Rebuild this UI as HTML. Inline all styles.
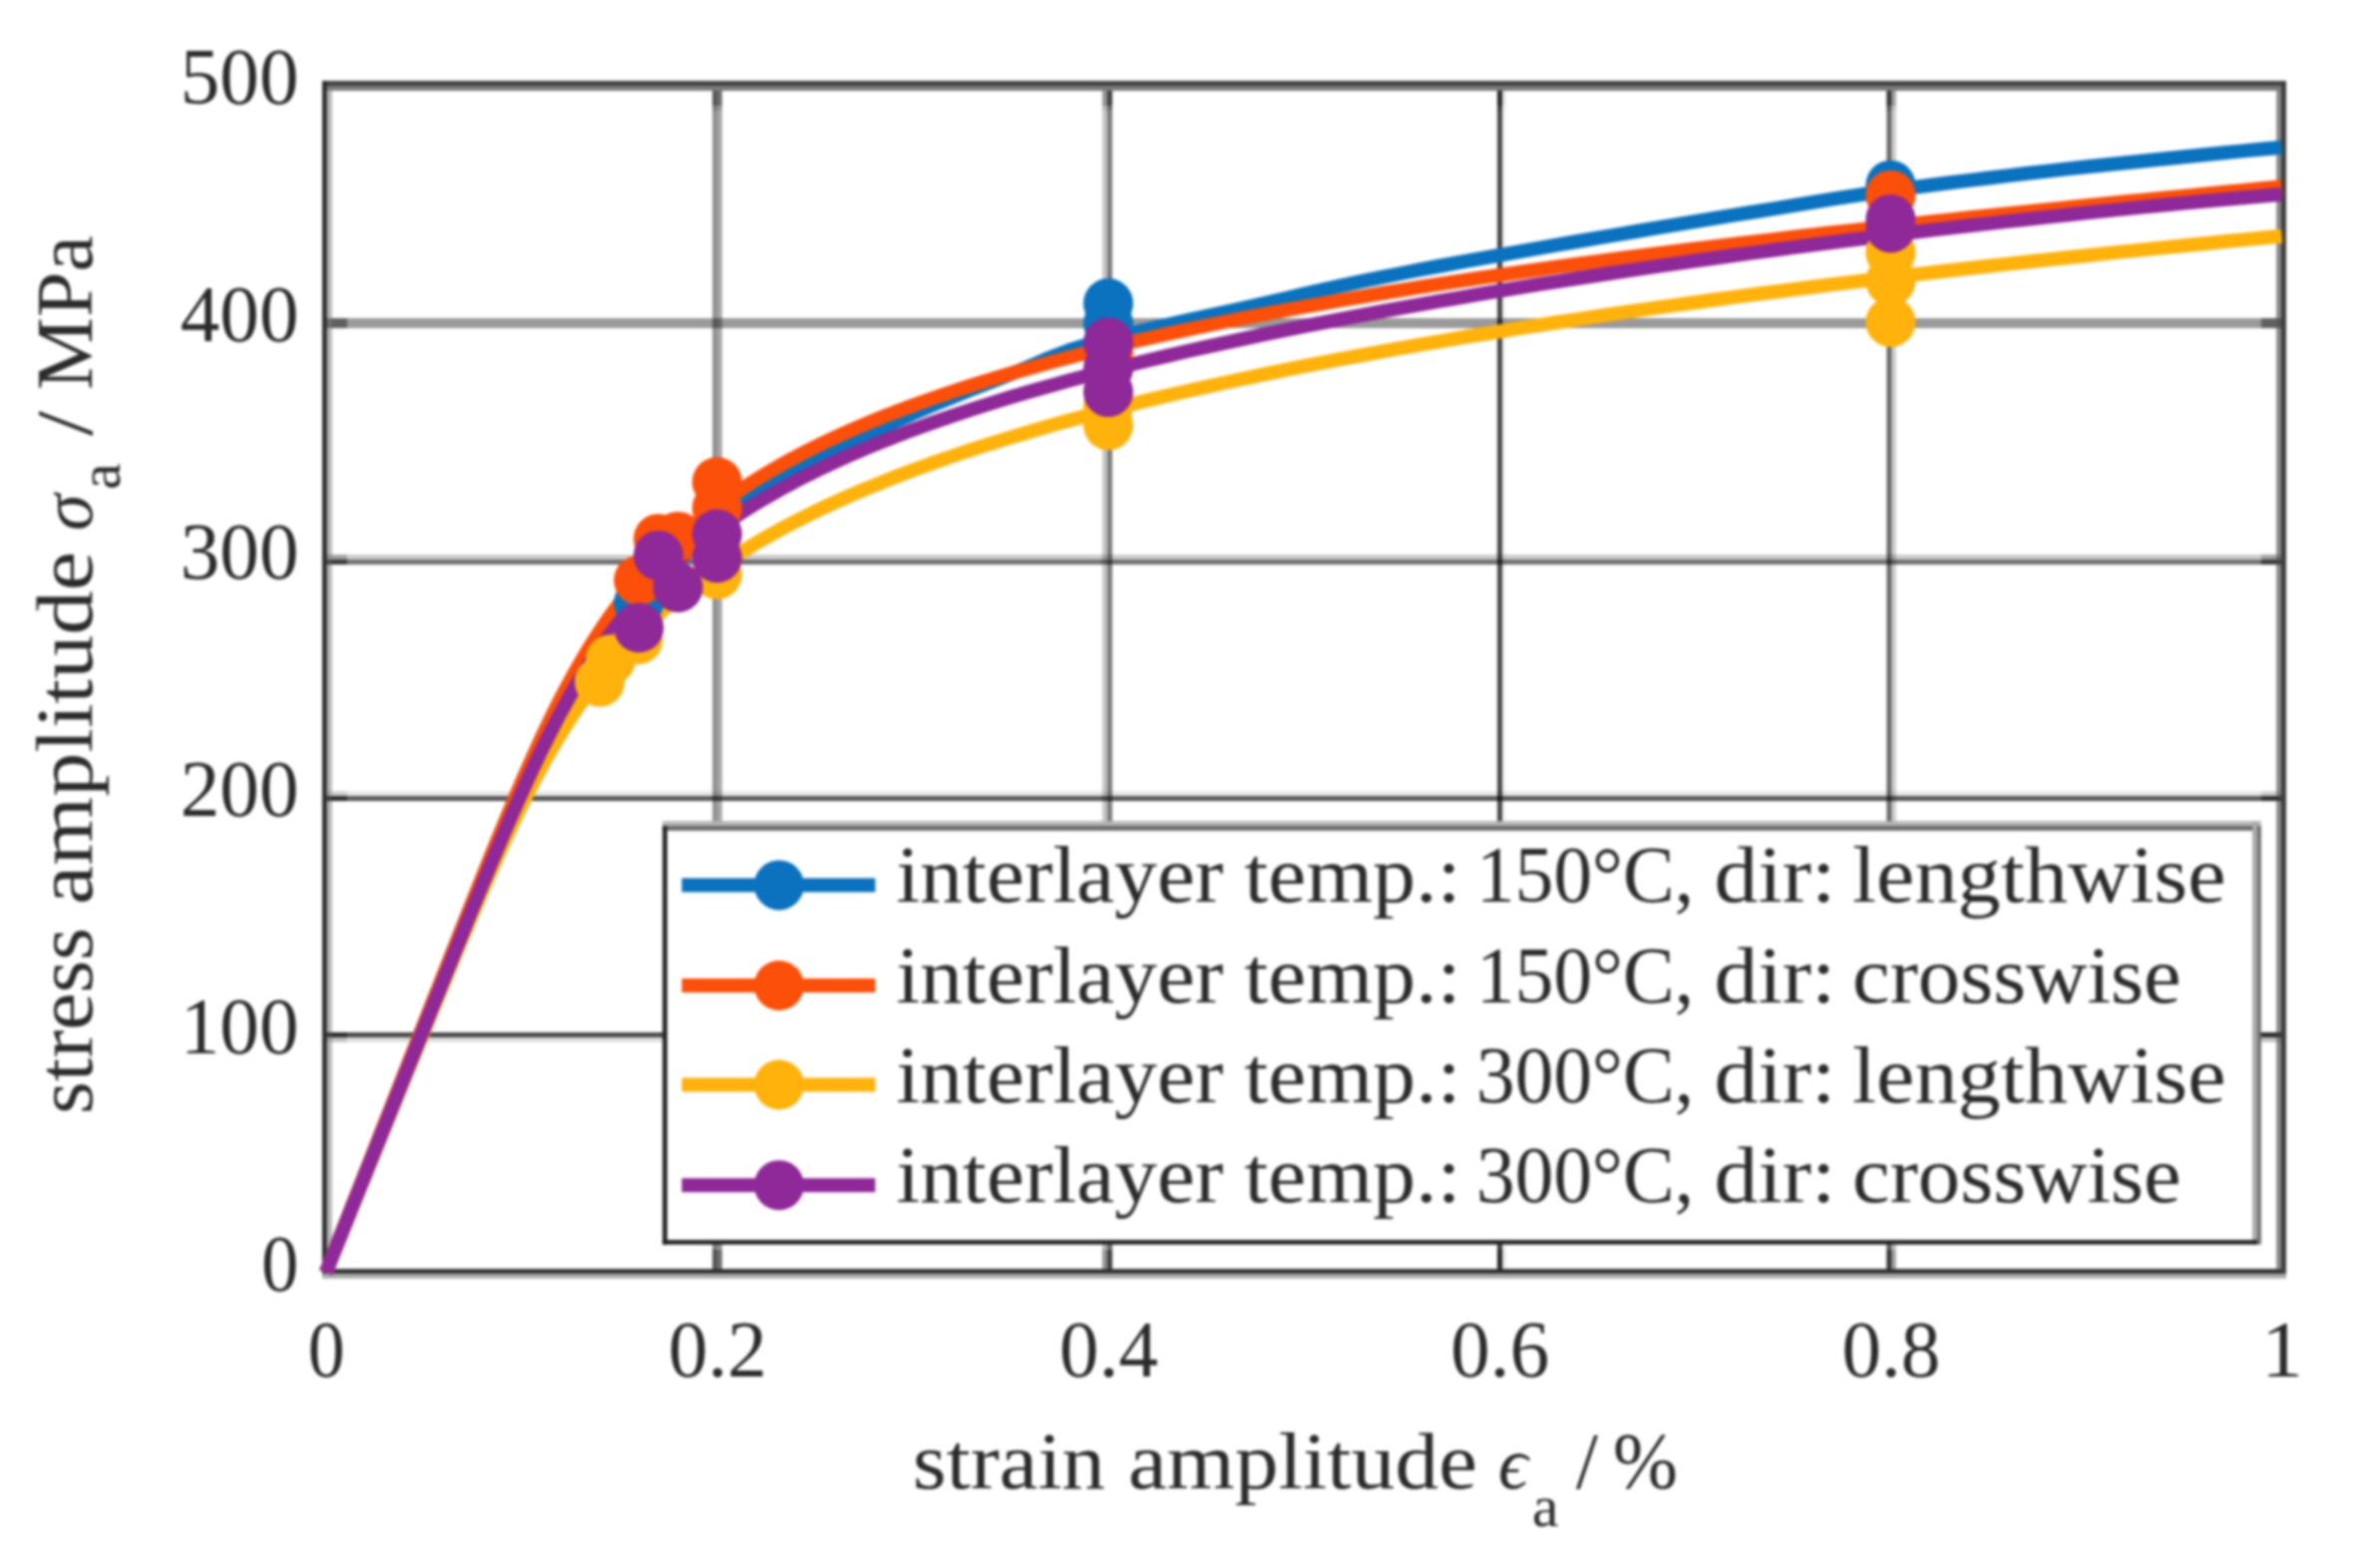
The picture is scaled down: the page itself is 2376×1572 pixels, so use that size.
<!DOCTYPE html>
<html><head><meta charset="utf-8"><title>chart</title>
<style>html,body{margin:0;padding:0;background:#fff}body{width:2376px;height:1572px;overflow:hidden}</style></head>
<body>
<svg width="2376" height="1572" viewBox="0 0 2376 1572" style="display:block;filter:blur(1.4px)">
<rect width="2376" height="1572" fill="#fff"/>
<rect x="326.7" y="319" width="1960.8999999999999" height="10" fill="#9a9a9a"/>
<rect x="326.7" y="556" width="1960.8999999999999" height="5" fill="#cdcdcd"/>
<rect x="326.7" y="561" width="1960.8999999999999" height="5" fill="#707070"/>
<rect x="326.7" y="793.3" width="1960.8999999999999" height="4.8" fill="#e6e6e6"/>
<rect x="326.7" y="798.1" width="1960.8999999999999" height="4.9" fill="#555"/>
<rect x="326.7" y="1035" width="1960.8999999999999" height="5" fill="#4a4a4a"/>
<rect x="326.7" y="1040" width="1960.8999999999999" height="4.8" fill="#dedede"/>
<rect x="714.3" y="85.7" width="4.8" height="1190.2" fill="#000" fill-opacity="0.44"/>
<rect x="719.1" y="85.7" width="4.8" height="1190.2" fill="#000" fill-opacity="0.35"/>
<rect x="1105.1" y="85.7" width="5" height="1190.2" fill="#000" fill-opacity="0.23"/>
<rect x="1110.1" y="85.7" width="5" height="1190.2" fill="#000" fill-opacity="0.52"/>
<rect x="1501.1" y="85.7" width="5" height="1190.2" fill="#000" fill-opacity="0.73"/>
<rect x="1506.1" y="85.7" width="4" height="1190.2" fill="#000" fill-opacity="0.04"/>
<rect x="1891.5" y="85.7" width="4.8" height="1190.2" fill="#000" fill-opacity="0.6"/>
<rect x="1896.3" y="85.7" width="4.6" height="1190.2" fill="#000" fill-opacity="0.2"/>
<rect x="323" y="81" width="1969" height="5" fill="#444"/>
<rect x="328" y="86" width="1959" height="5" fill="#7a7a7a"/>
<rect x="323" y="1272.2" width="1969" height="4.7" fill="#2d2d2d"/>
<rect x="323" y="1276.9" width="1969" height="4.9" fill="#aaa"/>
<rect x="323" y="81" width="4.9" height="1196" fill="#2d2d2d"/>
<rect x="327.9" y="91" width="5" height="1181.2" fill="#b8b8b8"/>
<rect x="2287" y="81" width="5" height="1196" fill="#3d3d3d"/>
<rect x="2282.1" y="91" width="4.9" height="1181.2" fill="#8a8a8a"/>
<rect x="714.3" y="91" width="4.8" height="15" fill="#262626" fill-opacity="0.56"/>
<rect x="714.3" y="106" width="4.8" height="5" fill="#262626" fill-opacity="0.17"/>
<rect x="714.3" y="1253" width="4.8" height="19.2" fill="#262626" fill-opacity="0.56"/>
<rect x="714.3" y="1248" width="4.8" height="5" fill="#262626" fill-opacity="0.17"/>
<rect x="719.1" y="91" width="4.8" height="15" fill="#262626" fill-opacity="0.44"/>
<rect x="719.1" y="106" width="4.8" height="5" fill="#262626" fill-opacity="0.13"/>
<rect x="719.1" y="1253" width="4.8" height="19.2" fill="#262626" fill-opacity="0.44"/>
<rect x="719.1" y="1248" width="4.8" height="5" fill="#262626" fill-opacity="0.13"/>
<rect x="1105.1" y="91" width="5" height="15" fill="#262626" fill-opacity="0.31"/>
<rect x="1105.1" y="106" width="5" height="5" fill="#262626" fill-opacity="0.09"/>
<rect x="1105.1" y="1253" width="5" height="19.2" fill="#262626" fill-opacity="0.31"/>
<rect x="1105.1" y="1248" width="5" height="5" fill="#262626" fill-opacity="0.09"/>
<rect x="1110.1" y="91" width="5" height="15" fill="#262626" fill-opacity="0.69"/>
<rect x="1110.1" y="106" width="5" height="5" fill="#262626" fill-opacity="0.21"/>
<rect x="1110.1" y="1253" width="5" height="19.2" fill="#262626" fill-opacity="0.69"/>
<rect x="1110.1" y="1248" width="5" height="5" fill="#262626" fill-opacity="0.21"/>
<rect x="1501.1" y="91" width="5" height="15" fill="#262626" fill-opacity="0.95"/>
<rect x="1501.1" y="106" width="5" height="5" fill="#262626" fill-opacity="0.28"/>
<rect x="1501.1" y="1253" width="5" height="19.2" fill="#262626" fill-opacity="0.95"/>
<rect x="1501.1" y="1248" width="5" height="5" fill="#262626" fill-opacity="0.28"/>
<rect x="1506.1" y="91" width="4" height="15" fill="#262626" fill-opacity="0.05"/>
<rect x="1506.1" y="106" width="4" height="5" fill="#262626" fill-opacity="0.01"/>
<rect x="1506.1" y="1253" width="4" height="19.2" fill="#262626" fill-opacity="0.05"/>
<rect x="1506.1" y="1248" width="4" height="5" fill="#262626" fill-opacity="0.01"/>
<rect x="1891.5" y="91" width="4.8" height="15" fill="#262626" fill-opacity="0.75"/>
<rect x="1891.5" y="106" width="4.8" height="5" fill="#262626" fill-opacity="0.22"/>
<rect x="1891.5" y="1253" width="4.8" height="19.2" fill="#262626" fill-opacity="0.75"/>
<rect x="1891.5" y="1248" width="4.8" height="5" fill="#262626" fill-opacity="0.22"/>
<rect x="1896.3" y="91" width="4.6" height="15" fill="#262626" fill-opacity="0.25"/>
<rect x="1896.3" y="106" width="4.6" height="5" fill="#262626" fill-opacity="0.07"/>
<rect x="1896.3" y="1253" width="4.6" height="19.2" fill="#262626" fill-opacity="0.25"/>
<rect x="1896.3" y="1248" width="4.6" height="5" fill="#262626" fill-opacity="0.07"/>
<rect x="327.9" y="319" width="20.1" height="5" fill="#262626" fill-opacity="0.50"/>
<rect x="2267" y="319" width="20" height="5" fill="#262626" fill-opacity="0.50"/>
<rect x="327.9" y="324" width="20.1" height="5" fill="#262626" fill-opacity="0.50"/>
<rect x="2267" y="324" width="20" height="5" fill="#262626" fill-opacity="0.50"/>
<rect x="327.9" y="556" width="20.1" height="5" fill="#262626" fill-opacity="0.26"/>
<rect x="2267" y="556" width="20" height="5" fill="#262626" fill-opacity="0.26"/>
<rect x="327.9" y="561" width="20.1" height="5" fill="#262626" fill-opacity="0.74"/>
<rect x="2267" y="561" width="20" height="5" fill="#262626" fill-opacity="0.74"/>
<rect x="327.9" y="793.3" width="20.1" height="4.8" fill="#262626" fill-opacity="0.13"/>
<rect x="2267" y="793.3" width="20" height="4.8" fill="#262626" fill-opacity="0.13"/>
<rect x="327.9" y="798.1" width="20.1" height="4.9" fill="#262626" fill-opacity="0.87"/>
<rect x="2267" y="798.1" width="20" height="4.9" fill="#262626" fill-opacity="0.87"/>
<rect x="327.9" y="1035" width="20.1" height="5" fill="#262626" fill-opacity="0.85"/>
<rect x="2267" y="1035" width="20" height="5" fill="#262626" fill-opacity="0.85"/>
<rect x="327.9" y="1040" width="20.1" height="4.8" fill="#262626" fill-opacity="0.15"/>
<rect x="2267" y="1040" width="20" height="4.8" fill="#262626" fill-opacity="0.15"/>
<clipPath id="cp"><rect x="316" y="81" width="1976" height="1203"/></clipPath>
<g clip-path="url(#cp)" fill="none" stroke-width="14" stroke-linejoin="round">
<polyline stroke="#0a72bf" points="326.7,1275.9 331.6,1263.5 336.5,1251.1 341.4,1238.7 346.3,1226.2 351.2,1213.8 356.1,1201.4 361.0,1189.0 365.9,1176.6 370.8,1164.2 375.7,1151.8 380.6,1139.4 385.5,1126.9 390.4,1114.5 395.3,1102.1 400.2,1089.7 405.1,1077.3 410.0,1064.9 414.9,1052.5 419.8,1040.1 424.7,1027.7 429.6,1015.3 434.5,1002.9 439.5,990.5 444.4,978.1 449.3,965.7 454.2,953.4 459.1,941.0 464.0,928.7 468.9,916.4 473.8,904.1 478.7,891.9 483.6,879.7 488.5,867.5 493.4,855.5 498.3,843.5 503.2,831.6 508.1,819.8 513.0,808.1 517.9,796.5 522.8,785.1 527.7,773.9 532.6,762.8 537.5,751.9 542.4,741.3 547.3,730.8 552.2,720.6 557.1,710.7 562.0,701.0 566.9,691.7 571.8,682.8 576.7,674.1 581.6,665.7 586.5,657.6 591.4,649.8 596.3,642.3 601.2,635.1 606.1,628.2 611.0,621.6 615.9,615.3 620.8,609.3 625.7,603.6 630.6,598.0 635.5,592.7 640.4,587.5 645.3,582.5 650.2,577.6 655.2,572.8 660.1,568.2 665.0,563.7 669.9,559.4 674.8,555.2 679.7,551.1 684.6,547.1 689.5,543.2 694.4,539.3 699.3,535.4 704.2,531.6 709.1,527.9 714.0,524.3 718.9,520.8 723.8,517.4 728.7,514.0 733.6,510.7 738.5,507.4 743.4,504.2 748.3,501.1 753.2,498.0 758.1,494.9 763.0,491.9 767.9,488.9 772.8,486.0 777.7,483.1 782.6,480.3 787.5,477.4 792.4,474.7 797.3,471.9 802.2,469.2 807.1,466.5 812.0,463.9 816.9,461.3 821.8,458.8 826.7,456.2 831.6,453.7 836.5,451.3 841.4,448.8 846.3,446.4 851.2,444.1 856.1,441.7 861.0,439.5 865.9,437.2 870.8,434.9 875.8,432.6 880.7,430.4 885.6,428.1 890.5,425.9 895.4,423.6 900.3,421.4 905.2,419.2 910.1,417.0 915.0,414.9 934.6,406.4 954.2,398.4 973.8,390.6 993.4,382.9 1013.0,375.2 1032.6,367.1 1052.2,358.7 1071.8,351.2 1091.5,345.1 1111.1,339.9 1130.7,335.0 1150.3,330.3 1169.9,325.7 1189.5,321.4 1209.1,317.1 1228.7,312.9 1248.3,308.5 1267.9,304.0 1287.5,299.5 1307.1,294.9 1326.8,290.4 1346.4,286.1 1366.0,281.8 1385.6,277.8 1405.2,274.0 1424.8,270.2 1444.4,266.5 1464.0,262.9 1483.6,259.3 1503.2,255.8 1522.8,252.3 1542.5,248.8 1562.1,245.4 1581.7,242.0 1601.3,238.6 1620.9,235.3 1640.5,232.0 1660.1,228.6 1679.7,225.4 1699.3,222.1 1718.9,218.8 1738.5,215.6 1758.2,212.5 1777.8,209.3 1797.4,206.1 1817.0,202.8 1836.6,199.7 1856.2,196.6 1875.8,193.7 1895.4,190.9 1915.0,188.4 1934.6,185.8 1954.2,183.3 1973.9,180.9 1993.5,178.5 2013.1,176.1 2032.7,173.8 2052.3,171.6 2071.9,169.4 2091.5,167.3 2111.1,165.2 2130.7,163.2 2150.3,161.2 2169.9,159.2 2189.6,157.2 2209.2,155.3 2228.8,153.3 2248.4,151.4 2268.0,149.5 2287.6,147.7"/>
<polyline stroke="#fb4f0a" points="326.7,1275.9 331.6,1263.5 336.5,1251.1 341.4,1238.7 346.3,1226.2 351.2,1213.8 356.1,1201.4 361.0,1189.0 365.9,1176.6 370.8,1164.2 375.7,1151.8 380.6,1139.4 385.5,1126.9 390.4,1114.5 395.3,1102.1 400.2,1089.7 405.1,1077.3 410.0,1064.9 414.9,1052.5 419.8,1040.1 424.7,1027.7 429.6,1015.3 434.5,1002.9 439.5,990.5 444.4,978.1 449.3,965.7 454.2,953.4 459.1,941.0 464.0,928.7 468.9,916.4 473.8,904.1 478.7,891.9 483.6,879.7 488.5,867.5 493.4,855.5 498.3,843.5 503.2,831.6 508.1,819.8 513.0,808.1 517.9,796.5 522.8,785.1 527.7,773.9 532.6,762.8 537.5,751.9 542.4,741.3 547.3,730.8 552.2,720.6 557.1,710.7 562.0,701.0 566.9,691.6 571.8,682.4 576.7,673.5 581.6,664.9 586.5,656.5 591.4,648.4 596.3,640.6 601.2,633.0 606.1,625.7 611.0,618.6 615.9,611.7 620.8,605.1 625.7,598.7 630.6,592.5 635.5,586.4 640.4,580.6 645.3,575.0 650.2,569.5 655.2,564.2 660.1,559.1 665.0,554.1 669.9,549.3 674.8,544.6 679.7,540.0 684.6,535.6 689.5,531.3 694.4,527.1 699.3,523.0 704.2,519.0 709.1,515.1 714.0,511.3 718.9,507.6 723.8,504.0 728.7,500.5 733.6,497.0 738.5,493.7 743.4,490.4 748.3,487.2 753.2,484.0 758.1,480.9 763.0,477.9 767.9,475.0 772.8,472.1 777.7,469.2 782.6,466.4 787.5,463.7 792.4,461.0 797.3,458.4 802.2,455.8 807.1,453.3 812.0,450.8 816.9,448.3 821.8,445.9 826.7,443.5 831.6,441.2 836.5,438.9 841.4,436.7 846.3,434.4 851.2,432.3 856.1,430.1 861.0,428.0 865.9,425.9 870.8,423.8 875.8,421.8 880.7,419.8 885.6,417.8 890.5,415.9 895.4,414.0 900.3,412.1 905.2,410.2 910.1,408.4 915.0,406.6 934.6,399.5 954.2,392.8 973.8,386.5 993.4,380.3 1013.0,374.5 1032.6,368.9 1052.2,363.5 1071.8,358.3 1091.5,353.3 1111.1,348.5 1130.7,343.8 1150.3,339.3 1169.9,334.9 1189.5,330.7 1209.1,326.5 1228.7,322.5 1248.3,318.6 1267.9,314.9 1287.5,311.2 1307.1,307.6 1326.8,304.1 1346.4,300.6 1366.0,297.3 1385.6,294.0 1405.2,290.8 1424.8,287.7 1444.4,284.6 1464.0,281.6 1483.6,278.7 1503.2,275.8 1522.8,273.0 1542.5,270.2 1562.1,267.4 1581.7,264.8 1601.3,262.1 1620.9,259.5 1640.5,257.0 1660.1,254.4 1679.7,252.0 1699.3,249.5 1718.9,247.1 1738.5,244.7 1758.2,242.4 1777.8,240.1 1797.4,237.8 1817.0,235.5 1836.6,233.3 1856.2,231.1 1875.8,228.9 1895.4,226.7 1915.0,224.6 1934.6,222.5 1954.2,220.4 1973.9,218.3 1993.5,216.3 2013.1,214.2 2032.7,212.2 2052.3,210.2 2071.9,208.2 2091.5,206.2 2111.1,204.3 2130.7,202.3 2150.3,200.4 2169.9,198.5 2189.6,196.6 2209.2,194.7 2228.8,192.8 2248.4,190.9 2268.0,189.0 2287.6,187.2"/>
<polyline stroke="#ffb20c" points="326.7,1275.9 331.6,1263.8 336.5,1251.7 341.4,1239.7 346.3,1227.6 351.2,1215.5 356.1,1203.4 361.0,1191.4 365.9,1179.3 370.8,1167.2 375.7,1155.1 380.6,1143.0 385.5,1131.0 390.4,1118.9 395.3,1106.8 400.2,1094.7 405.1,1082.7 410.0,1070.6 414.9,1058.6 419.8,1046.5 424.7,1034.5 429.6,1022.5 434.5,1010.5 439.5,998.5 444.4,986.5 449.3,974.6 454.2,962.8 459.1,950.9 464.0,939.2 468.9,927.5 473.8,915.9 478.7,904.4 483.6,893.0 488.5,881.7 493.4,870.6 498.3,859.6 503.2,848.8 508.1,838.2 513.0,827.8 517.9,817.5 522.8,807.5 527.7,797.7 532.6,788.1 537.5,778.8 542.4,769.7 547.3,760.9 552.2,752.3 557.1,744.0 562.0,735.9 566.9,728.0 571.8,720.3 576.7,712.9 581.6,705.8 586.5,698.8 591.4,692.1 596.3,685.5 601.2,679.2 606.1,673.1 611.0,667.1 615.9,661.3 620.8,655.7 625.7,650.3 630.6,644.9 635.5,639.8 640.4,634.8 645.3,629.9 650.2,625.1 655.2,620.5 660.1,616.0 665.0,611.6 669.9,607.3 674.8,603.1 679.7,599.1 684.6,595.1 689.5,591.2 694.4,587.4 699.3,583.6 704.2,580.0 709.1,576.4 714.0,573.0 718.9,569.5 723.8,566.2 728.7,562.9 733.6,559.7 738.5,556.6 743.4,553.5 748.3,550.4 753.2,547.5 758.1,544.5 763.0,541.7 767.9,538.9 772.8,536.1 777.7,533.4 782.6,530.7 787.5,528.0 792.4,525.5 797.3,522.9 802.2,520.4 807.1,517.9 812.0,515.5 816.9,513.1 821.8,510.7 826.7,508.4 831.6,506.1 836.5,503.9 841.4,501.6 846.3,499.4 851.2,497.3 856.1,495.1 861.0,493.0 865.9,491.0 870.8,488.9 875.8,486.9 880.7,484.9 885.6,482.9 890.5,480.9 895.4,479.0 900.3,477.1 905.2,475.2 910.1,473.4 915.0,471.5 934.6,464.4 954.2,457.5 973.8,450.9 993.4,444.6 1013.0,438.6 1032.6,432.7 1052.2,427.1 1071.8,421.6 1091.5,416.3 1111.1,411.2 1130.7,406.3 1150.3,401.4 1169.9,396.8 1189.5,392.2 1209.1,387.8 1228.7,383.5 1248.3,379.3 1267.9,375.2 1287.5,371.1 1307.1,367.2 1326.8,363.4 1346.4,359.7 1366.0,356.0 1385.6,352.4 1405.2,348.9 1424.8,345.4 1444.4,342.1 1464.0,338.7 1483.6,335.5 1503.2,332.3 1522.8,329.2 1542.5,326.1 1562.1,323.0 1581.7,320.1 1601.3,317.1 1620.9,314.2 1640.5,311.4 1660.1,308.6 1679.7,305.9 1699.3,303.2 1718.9,300.5 1738.5,297.9 1758.2,295.3 1777.8,292.7 1797.4,290.2 1817.0,287.7 1836.6,285.3 1856.2,282.9 1875.8,280.5 1895.4,278.1 1915.0,275.8 1934.6,273.5 1954.2,271.2 1973.9,269.0 1993.5,266.8 2013.1,264.6 2032.7,262.5 2052.3,260.4 2071.9,258.3 2091.5,256.2 2111.1,254.1 2130.7,252.1 2150.3,250.1 2169.9,248.1 2189.6,246.2 2209.2,244.2 2228.8,242.3 2248.4,240.4 2268.0,238.5 2287.6,236.7"/>
<polyline stroke="#8f2898" points="326.7,1275.9 331.6,1263.7 336.5,1251.5 341.4,1239.3 346.3,1227.1 351.2,1214.9 356.1,1202.7 361.0,1190.5 365.9,1178.3 370.8,1166.1 375.7,1153.9 380.6,1141.7 385.5,1129.5 390.4,1117.3 395.3,1105.1 400.2,1092.9 405.1,1080.7 410.0,1068.5 414.9,1056.3 419.8,1044.1 424.7,1031.9 429.6,1019.7 434.5,1007.5 439.5,995.4 444.4,983.2 449.3,971.1 454.2,958.9 459.1,946.8 464.0,934.8 468.9,922.7 473.8,910.7 478.7,898.8 483.6,886.9 488.5,875.1 493.4,863.3 498.3,851.7 503.2,840.1 508.1,828.7 513.0,817.4 517.9,806.2 522.8,795.3 527.7,784.5 532.6,773.8 537.5,763.4 542.4,753.2 547.3,743.3 552.2,733.5 557.1,724.0 562.0,714.8 566.9,705.8 571.8,697.0 576.7,688.6 581.6,680.3 586.5,672.4 591.4,664.8 596.3,657.4 601.2,650.3 606.1,643.4 611.0,636.8 615.9,630.3 620.8,624.0 625.7,618.0 630.6,612.1 635.5,606.4 640.4,600.9 645.3,595.5 650.2,590.3 655.2,585.2 660.1,580.3 665.0,575.6 669.9,570.9 674.8,566.4 679.7,562.0 684.6,557.8 689.5,553.6 694.4,549.6 699.3,545.6 704.2,541.8 709.1,538.0 714.0,534.3 718.9,530.7 723.8,527.2 728.7,523.8 733.6,520.5 738.5,517.2 743.4,514.0 748.3,510.8 753.2,507.8 758.1,504.7 763.0,501.8 767.9,498.9 772.8,496.1 777.7,493.3 782.6,490.5 787.5,487.8 792.4,485.2 797.3,482.6 802.2,480.1 807.1,477.5 812.0,475.1 816.9,472.7 821.8,470.3 826.7,467.9 831.6,465.6 836.5,463.3 841.4,461.1 846.3,458.9 851.2,456.7 856.1,454.6 861.0,452.5 865.9,450.4 870.8,448.3 875.8,446.3 880.7,444.3 885.6,442.3 890.5,440.4 895.4,438.4 900.3,436.5 905.2,434.7 910.1,432.8 915.0,431.0 934.6,423.9 954.2,417.1 973.8,410.6 993.4,404.3 1013.0,398.3 1032.6,392.5 1052.2,386.9 1071.8,381.5 1091.5,376.3 1111.1,371.2 1130.7,366.3 1150.3,361.5 1169.9,356.9 1189.5,352.3 1209.1,347.9 1228.7,343.6 1248.3,339.3 1267.9,335.2 1287.5,331.2 1307.1,327.2 1326.8,323.4 1346.4,319.6 1366.0,315.9 1385.6,312.2 1405.2,308.6 1424.8,305.1 1444.4,301.7 1464.0,298.3 1483.6,294.9 1503.2,291.7 1522.8,288.4 1542.5,285.2 1562.1,282.1 1581.7,279.0 1601.3,276.0 1620.9,273.0 1640.5,270.1 1660.1,267.2 1679.7,264.3 1699.3,261.5 1718.9,258.8 1738.5,256.0 1758.2,253.4 1777.8,250.7 1797.4,248.1 1817.0,245.5 1836.6,243.0 1856.2,240.5 1875.8,238.1 1895.4,235.6 1915.0,233.3 1934.6,230.9 1954.2,228.6 1973.9,226.3 1993.5,224.1 2013.1,221.9 2032.7,219.7 2052.3,217.6 2071.9,215.5 2091.5,213.4 2111.1,211.4 2130.7,209.4 2150.3,207.4 2169.9,205.5 2189.6,203.6 2209.2,201.8 2228.8,200.0 2248.4,198.2 2268.0,196.5 2287.6,194.8"/>
<g fill="#0a72bf" stroke="none"><circle cx="640.4" cy="604.3" r="25"/><circle cx="1111.1" cy="304.1" r="25"/><circle cx="1111.1" cy="324.3" r="25"/><circle cx="1895.4" cy="185.7" r="25"/></g>
<g fill="#fb4f0a" stroke="none"><circle cx="640.4" cy="581.8" r="25"/><circle cx="660.1" cy="540.2" r="25"/><circle cx="679.7" cy="537.9" r="25"/><circle cx="718.9" cy="483.3" r="25"/><circle cx="718.9" cy="509.4" r="25"/><circle cx="1111.1" cy="352.8" r="25"/><circle cx="1895.4" cy="195.7" r="25"/></g>
<g fill="#ffb20c" stroke="none"><circle cx="601.2" cy="683.6" r="25"/><circle cx="612.2" cy="661.3" r="25"/><circle cx="639.5" cy="641.1" r="25"/><circle cx="718.9" cy="575.8" r="25"/><circle cx="1111.1" cy="426.3" r="25"/><circle cx="1111.1" cy="407.4" r="25"/><circle cx="1895.4" cy="322.9" r="25"/><circle cx="1895.4" cy="281.6" r="25"/><circle cx="1895.4" cy="253.1" r="25"/></g>
<g fill="#8f2898" stroke="none"><circle cx="640.4" cy="629.2" r="25"/><circle cx="660.1" cy="556.9" r="25"/><circle cx="679.7" cy="588.9" r="25"/><circle cx="718.9" cy="535.5" r="25"/><circle cx="718.9" cy="559.2" r="25"/><circle cx="1111.1" cy="343.3" r="25"/><circle cx="1111.1" cy="369.4" r="25"/><circle cx="1111.1" cy="393.1" r="25"/><circle cx="1895.4" cy="219.9" r="25"/><circle cx="1895.4" cy="228.4" r="25"/></g>
</g>
<rect x="667" y="828" width="1596" height="416" fill="#fff"/>
<rect x="664.2" y="823.2" width="1602.6" height="4.8" fill="#b4b4b4"/>
<rect x="664.2" y="828" width="1602.6" height="4.8" fill="#6b6b6b"/>
<rect x="2258" y="823.2" width="5" height="424.5" fill="#aaa"/>
<rect x="2263" y="828" width="3.9" height="419.7" fill="#717171"/>
<rect x="664.2" y="828" width="4.8" height="419.7" fill="#262626"/>
<rect x="664.2" y="1243.1" width="1598.8" height="4.6" fill="#222"/>
<rect x="683.5" y="880.4" width="194" height="14" fill="#0a72bf"/><circle cx="781" cy="887.4" r="25" fill="#0a72bf"/>
<rect x="683.5" y="981" width="194" height="14" fill="#fb4f0a"/><circle cx="781" cy="988" r="25" fill="#fb4f0a"/>
<rect x="683.5" y="1080.5" width="194" height="14" fill="#ffb20c"/><circle cx="781" cy="1087.5" r="25" fill="#ffb20c"/>
<rect x="683.5" y="1181.2" width="194" height="14" fill="#8f2898"/><circle cx="781" cy="1188.2" r="25" fill="#8f2898"/>
<g font-family="'Liberation Serif', serif" font-size="80" fill="#2b2b2b">
<text y="904.4"><tspan x="898.5" textLength="328" lengthAdjust="spacingAndGlyphs">interlayer</tspan> <tspan x="1247.5" textLength="217" lengthAdjust="spacingAndGlyphs">temp.:</tspan> <tspan x="1480" textLength="218" lengthAdjust="spacingAndGlyphs">150°C,</tspan> <tspan x="1718.5" textLength="122" lengthAdjust="spacingAndGlyphs">dir:</tspan> <tspan x="1857" textLength="374.5" lengthAdjust="spacingAndGlyphs">lengthwise</tspan></text>
<text y="1005"><tspan x="898.5" textLength="328" lengthAdjust="spacingAndGlyphs">interlayer</tspan> <tspan x="1247.5" textLength="217" lengthAdjust="spacingAndGlyphs">temp.:</tspan> <tspan x="1480" textLength="218" lengthAdjust="spacingAndGlyphs">150°C,</tspan> <tspan x="1718.5" textLength="122" lengthAdjust="spacingAndGlyphs">dir:</tspan> <tspan x="1857" textLength="329.7" lengthAdjust="spacingAndGlyphs">crosswise</tspan></text>
<text y="1104.5"><tspan x="898.5" textLength="328" lengthAdjust="spacingAndGlyphs">interlayer</tspan> <tspan x="1247.5" textLength="217" lengthAdjust="spacingAndGlyphs">temp.:</tspan> <tspan x="1480" textLength="218" lengthAdjust="spacingAndGlyphs">300°C,</tspan> <tspan x="1718.5" textLength="122" lengthAdjust="spacingAndGlyphs">dir:</tspan> <tspan x="1857" textLength="374.5" lengthAdjust="spacingAndGlyphs">lengthwise</tspan></text>
<text y="1205.2"><tspan x="898.5" textLength="328" lengthAdjust="spacingAndGlyphs">interlayer</tspan> <tspan x="1247.5" textLength="217" lengthAdjust="spacingAndGlyphs">temp.:</tspan> <tspan x="1480" textLength="218" lengthAdjust="spacingAndGlyphs">300°C,</tspan> <tspan x="1718.5" textLength="122" lengthAdjust="spacingAndGlyphs">dir:</tspan> <tspan x="1857" textLength="329.7" lengthAdjust="spacingAndGlyphs">crosswise</tspan></text>
<text x="299.5" y="1293.9" textLength="37.387" lengthAdjust="spacingAndGlyphs" text-anchor="end">0</text>
<text x="299.5" y="1055.8600000000001" textLength="118.701" lengthAdjust="spacingAndGlyphs" text-anchor="end">100</text>
<text x="299.5" y="817.8200000000002" textLength="118.701" lengthAdjust="spacingAndGlyphs" text-anchor="end">200</text>
<text x="299.5" y="579.7800000000001" textLength="118.701" lengthAdjust="spacingAndGlyphs" text-anchor="end">300</text>
<text x="299.5" y="341.7400000000001" textLength="118.701" lengthAdjust="spacingAndGlyphs" text-anchor="end">400</text>
<text x="299.5" y="103.70000000000005" textLength="118.701" lengthAdjust="spacingAndGlyphs" text-anchor="end">500</text>
<text x="327.2" y="1379.5" textLength="37" lengthAdjust="spacingAndGlyphs" text-anchor="middle">0</text>
<text x="719.38" y="1379.5" textLength="99" lengthAdjust="spacingAndGlyphs" text-anchor="middle">0.2</text>
<text x="1111.56" y="1379.5" textLength="99" lengthAdjust="spacingAndGlyphs" text-anchor="middle">0.4</text>
<text x="1503.74" y="1379.5" textLength="99" lengthAdjust="spacingAndGlyphs" text-anchor="middle">0.6</text>
<text x="1895.92" y="1379.5" textLength="99" lengthAdjust="spacingAndGlyphs" text-anchor="middle">0.8</text>
<text x="2288.1" y="1379.5" textLength="42" lengthAdjust="spacingAndGlyphs" text-anchor="middle">1</text>
<text y="1492"><tspan x="915" textLength="193" lengthAdjust="spacingAndGlyphs">strain</tspan> <tspan x="1131" textLength="350" lengthAdjust="spacingAndGlyphs">amplitude</tspan> <tspan x="1502" font-style="italic" font-size="74">ϵ</tspan><tspan x="1536" dy="38" font-size="60">a</tspan> <tspan x="1580" dy="-38" textLength="22" lengthAdjust="spacingAndGlyphs">/</tspan> <tspan x="1617" textLength="65" lengthAdjust="spacingAndGlyphs">%</tspan></text>
<g transform="translate(92,0) rotate(-90)">
<text y="0"><tspan x="-1117" textLength="187" lengthAdjust="spacingAndGlyphs">stress</tspan> <tspan x="-907" textLength="354" lengthAdjust="spacingAndGlyphs">amplitude</tspan> <tspan x="-532" font-style="italic" font-size="74">σ</tspan><tspan x="-491" dy="28" font-size="60">a</tspan> <tspan x="-437" dy="-28" textLength="25" lengthAdjust="spacingAndGlyphs">/</tspan> <tspan x="-391" textLength="155" lengthAdjust="spacingAndGlyphs">MPa</tspan></text>
</g>
</g>
</svg>
</body></html>
